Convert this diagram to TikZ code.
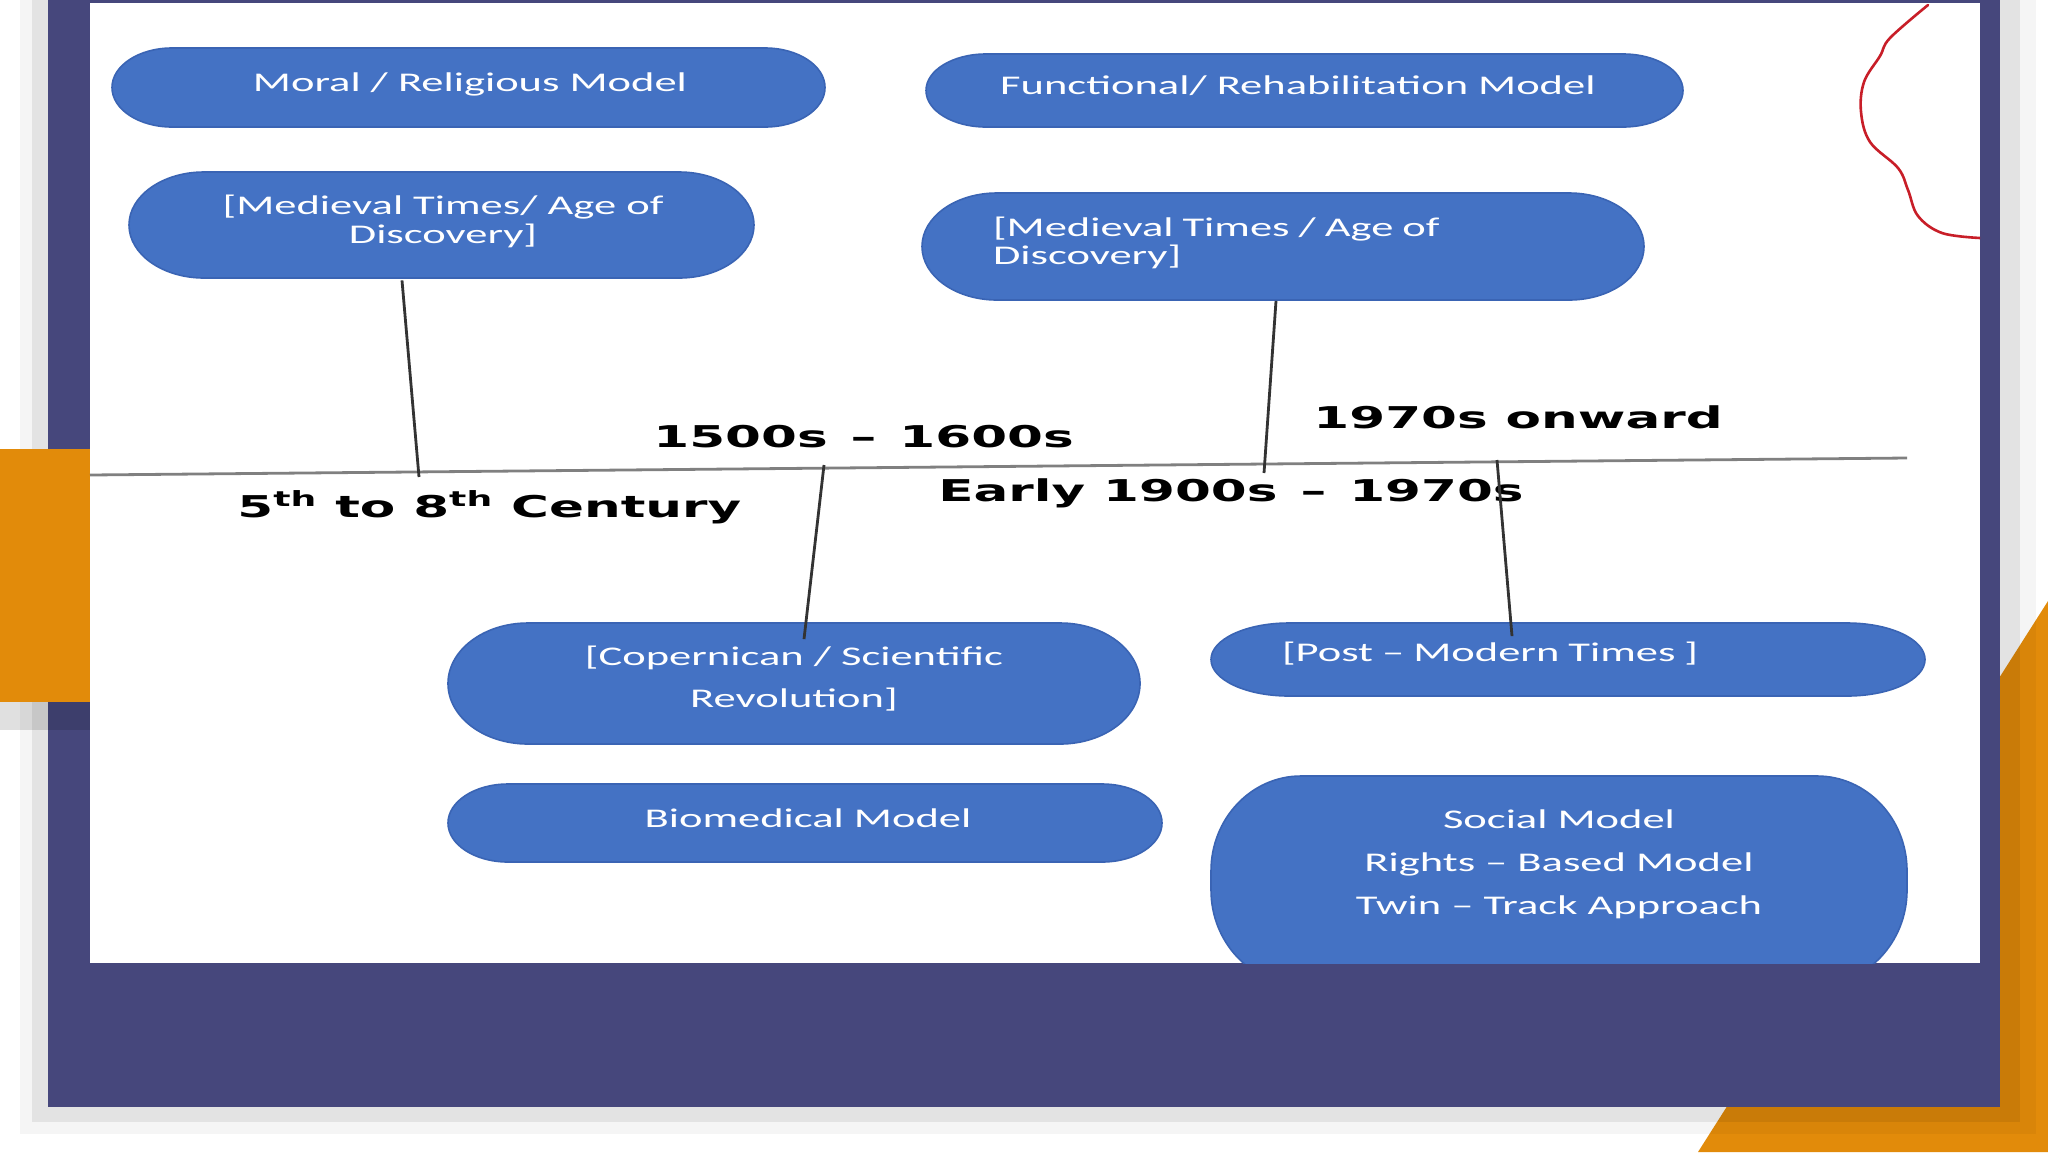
\documentclass[tikz,border=0pt]{standalone}
\usepackage{fontspec}
\setmainfont{Carlito}
\newfontfamily\ovalfont[FakeStretch=1.65]{Carlito}
\newfontfamily\yearfont[FakeStretch=1.72]{DejaVu Sans}
\usetikzlibrary{calc}
\definecolor{framepurple}{RGB}{70,71,124}
\definecolor{orng}{RGB}{226,139,10}
\definecolor{pillblue}{RGB}{68,114,196}
\definecolor{pilledge}{RGB}{58,100,180}
\definecolor{inkred}{RGB}{200,30,40}
% x1,y1,x2,y2,rx,ry  (image pixel coordinates, y downwards)
\newcommand\pill[6]{%
  \path[pillfill] ({#1+#5},#2) -- ({#3-#5},#2)
   .. controls ({#3-0.4477*#5},#2) and (#3,{#2+0.4477*#6}) .. (#3,{#2+#6})
   -- (#3,{#4-#6})
   .. controls (#3,{#4-0.4477*#6}) and ({#3-0.4477*#5},#4) .. ({#3-#5},#4)
   -- ({#1+#5},#4)
   .. controls ({#1+0.4477*#5},#4) and (#1,{#4-0.4477*#6}) .. (#1,{#4-#6})
   -- (#1,{#2+#6})
   .. controls (#1,{#2+0.4477*#6}) and ({#1+0.4477*#5},#2) .. cycle;}
\begin{document}
\begin{tikzpicture}[x=0.5pt,y=-0.5pt,
  pillfill/.style={fill=pillblue,draw=pilledge,line width=0.8pt},
  ovaltext/.style={text=white,inner sep=0pt,align=center,
    font=\ovalfont\fontsize{13.5}{14.5}\selectfont},
  oneline/.style={text height=8pt,text depth=3.8pt},
  yearlab/.style={text=black,inner sep=0pt,anchor=base west,
    font=\yearfont\bfseries\fontsize{15}{18}\selectfont},
  conn/.style={draw=black!80,line width=1.4pt},
  timeline/.style={draw=black!50,line width=1.4pt}]
\useasboundingbox (0,0) rectangle (2048,1152);
% background and slide frame
\fill[white] (0,0) rectangle (2048,1152);
\fill[orng] (1698,1152) -- (2048,601) -- (2048,1152) -- cycle;
\fill[black,opacity=0.04] (20,0) rectangle (2036,1134);
\fill[black,opacity=0.07] (32,0) rectangle (2020,1122);
\fill[framepurple] (48,0) rectangle (2000,1107);
\fill[white] (90,3) rectangle (1980,963);
\fill[black,opacity=0.12] (0,456) rectangle (90,730);
\fill[orng] (0,449) rectangle (90,702);
\begin{scope}
\clip (90,3) rectangle (1980,963);
% pills
\pill{112}{48}{825}{127}{60}{39.5}
\pill{926}{54}{1683}{127}{60}{36.5}
\pill{129}{172}{754}{278}{75}{53}
\pill{922}{193}{1644}{300}{75}{53.5}
\pill{448}{623}{1140}{744}{80}{60.5}
\pill{448}{784}{1162}{862}{60}{39}
\pill{1211}{623}{1925}{696}{78}{36.5}
\pill{1211}{776}{1907}{985}{90}{95}
% red annotation stroke
\draw[inkred,line width=1.3pt,line cap=round] plot[smooth,tension=0.6] coordinates
  {(1928,5) (1890,38) (1880,56) (1864,82) (1861,112) (1870,142) (1898,168)
   (1908,190) (1918,216) (1942,233) (1980,238)};
\end{scope}
% oval texts
\node[ovaltext,oneline,minimum width=713*0.5pt,minimum height=79*0.5pt] (moral) at (470,87.5) {Moral / Religious Model};
\node[ovaltext,oneline,minimum width=757*0.5pt,minimum height=73*0.5pt] (func) at (1298,90.5) {Functional/ Rehabilitation Model};
\node[ovaltext,minimum width=625*0.5pt,minimum height=106*0.5pt] (medL) at (443,221) {[Medieval Times/ Age of\\Discovery]};
\node[ovaltext,align=left,text width=290pt,minimum width=722*0.5pt,minimum height=107*0.5pt,
  font=\ovalfont\fontsize{13.5}{14}\selectfont] (medR) at (1283,243) {[Medieval Times / Age of\\Discovery]};
\node[ovaltext,minimum width=692*0.5pt,minimum height=121*0.5pt,
  font=\ovalfont\fontsize{13.5}{21}\selectfont] (cop) at (794,679) {[Copernican / Scientific\\Revolution]};
\node[ovaltext,oneline,minimum width=714*0.5pt,minimum height=78*0.5pt] (bio) at (808,823) {Biomedical Model};
\node[ovaltext,oneline,align=left,text width=286pt,minimum width=714*0.5pt,minimum height=73*0.5pt] (post) at (1568,657) {[Post – Modern Times ]};
\node[ovaltext,minimum width=696*0.5pt,minimum height=187*0.5pt,
  font=\ovalfont\fontsize{13.5}{21.5}\selectfont] (social) at (1559,864) {Social Model\\Rights – Based Model\\Twin – Track Approach};
% year labels
\node[yearlab] (yA) at (237,517) {5\textsuperscript{th} to 8\textsuperscript{th} Century};
\node[yearlab] (yB) at (653,447) {1500s \,–\, 1600s};
\node[yearlab] (yC) at (938,501) {Early 1900s \,–\, 1970s};
\node[yearlab] (yD) at (1313,428) {1970s onward};
% timeline
\coordinate (tlStart) at (90,475);
\coordinate (tlEnd) at (1907,458);
\draw[timeline] (tlStart) -- (tlEnd);
\coordinate (ta) at (419,477);
\coordinate (tb) at (824,465);
\coordinate (tc) at (1264,473);
\coordinate (td) at (1497,460);
% connectors
\draw[conn] ($(medL.south)+(-41,6)$) -- (ta);
\draw[conn] (tb) -- ($(cop.north)+(10,21)$);
\draw[conn] ($(medR.south)+(-7,4)$) -- (tc);
\draw[conn] (td) -- ($(post.north)+(-56,16)$);
\end{tikzpicture}
\end{document}
